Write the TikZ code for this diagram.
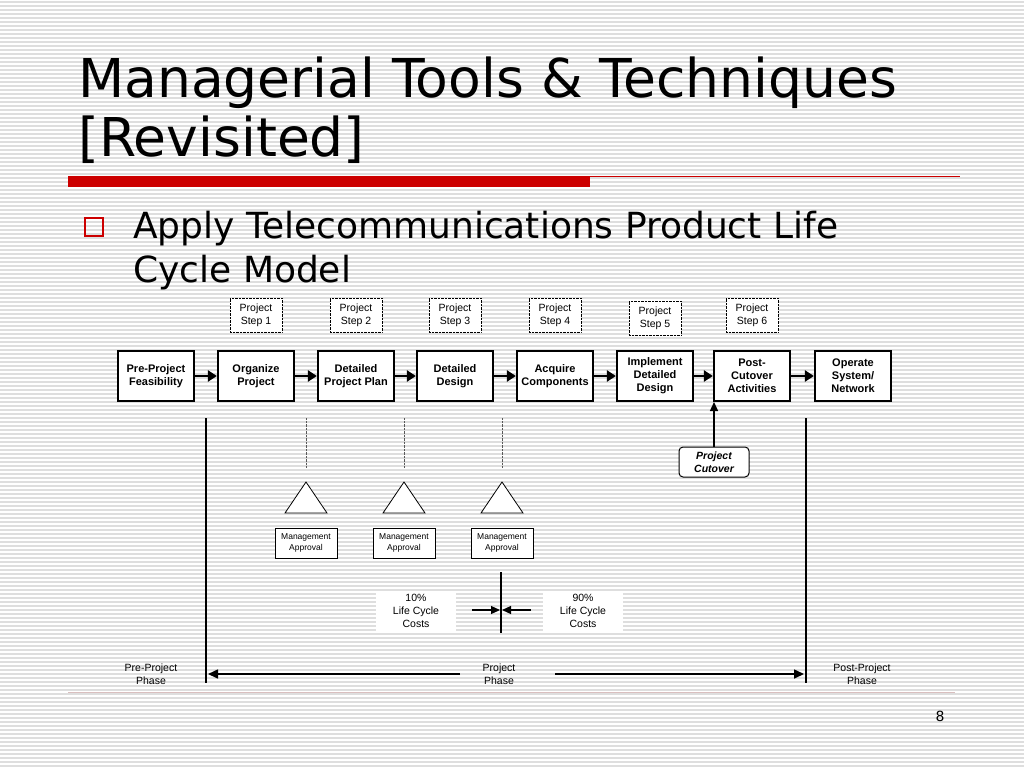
\documentclass[tikz,border=0pt]{standalone}
\usepackage{fontspec}
\setmainfont{DejaVu Sans}
\newfontfamily\arial{Liberation Sans}
\usetikzlibrary{arrows.meta}
\definecolor{stripe}{RGB}{222,222,222}
\definecolor{tred}{RGB}{204,0,0}
\begin{document}
\begin{tikzpicture}[x=1pt,y=-1pt,
 proc/.style={draw,line width=2.2pt,minimum width=76pt,minimum height=50pt,align=center,font=\arial\fontsize{11}{13}\selectfont\bfseries,inner sep=1pt,fill=white},
 pstep/.style={draw,densely dotted,minimum width=52pt,minimum height=34pt,align=center,font=\arial\fontsize{10.5}{13}\selectfont,fill=white},
 mgmt/.style={draw,line width=1pt,minimum width=62pt,minimum height=30pt,align=center,font=\arial\fontsize{8.5}{11}\selectfont,fill=white},
 lbl/.style={align=center,font=\arial\fontsize{10.5}{13}\selectfont},
 flow/.style={line width=2.5pt,-{Triangle[length=9pt,width=11pt]}},
 tri/.style={draw,line width=0.8pt,fill=white}]
\useasboundingbox (0,0) rectangle (1024,768);
\fill[white] (0,0) rectangle (1024,768);
\foreach \y in {2,6,...,766} \draw[stripe,line width=1.2pt] (0,\y) -- (1024,\y);
% title
\node[anchor=base west,font=\fontsize{53.5}{60}\selectfont,inner sep=0] (t1) at (78,97) {Managerial Tools \& Techniques};
\node[anchor=base west,font=\fontsize{53.5}{60}\selectfont,inner sep=0] (t2) at (78,156) {[Revisited]};
\fill[tred] (68,176) rectangle (590,187);
\draw[tred,line width=0.8pt] (590,176) -- (960,176);
\draw[tred,line width=2pt] (85,218) rectangle (103,236);
\node[anchor=base west,font=\fontsize{36}{40}\selectfont,inner sep=0] (b1) at (133,238) {Apply Telecommunications Product Life};
\node[anchor=base west,font=\fontsize{36}{40}\selectfont,inner sep=0] (b2) at (133,282) {Cycle Model};
% process boxes
\foreach \n/\x/\t in {p1/156/{Pre-Project\\Feasibility},p2/256/{Organize\\Project},p3/356/{Detailed\\Project Plan},p4/455/{Detailed\\Design},p5/555/{Acquire\\Components},p6/655/{Implement\\Detailed\\Design},p7/752/{Post-\\Cutover\\Activities},p8/853/{Operate\\System/\\Network}}
  \node[proc] (\n) at (\x,376) {\t};
\foreach \a/\b in {p1/p2,p2/p3,p3/p4,p4/p5,p5/p6,p6/p7,p7/p8} \draw[flow] (\a) -- (\b);
\foreach \n/\x/\y/\k in {s1/256/315/1,s2/356/315/2,s3/455/315/3,s4/555/315/4,s5/655/318/5,s6/752/315/6}
  \node[pstep] (\n) at (\x,\y) {Project\\Step \k};
% cutover
\node[draw,line width=1pt,rounded corners=4pt,minimum width=70pt,minimum height=30pt,align=center,font=\arial\fontsize{10.5}{13}\selectfont\bfseries\itshape,fill=white] (pc) at (714,462) {Project\\Cutover};
\draw[line width=1.4pt,-{Triangle[length=9pt,width=8pt]}] (pc) -- (714,402);
% phase lines
\coordinate (l1a) at (206,418); \coordinate (l1b) at (206,683);
\coordinate (l2a) at (806,418); \coordinate (l2b) at (806,683);
\draw[line width=1.2pt] (l1a) -- (l1b); \draw[line width=1.2pt] (l2a) -- (l2b);
% approvals
\foreach \i/\x in {1/306,2/404,3/502}{
  \draw[densely dotted,gray!70!black] (\x,418) -- (\x,468);
  \draw[tri] (\x,482) -- (\x+21,513) -- (\x-21,513) -- cycle;
  \node[mgmt] (m\i) at (\x,543) {Management\\Approval};
}
% cost split
\coordinate (ca) at (501,572); \coordinate (cb) at (501,633);
\draw[line width=1.2pt] (ca) -- (cb);
\node[lbl,fill=white,minimum width=80pt,minimum height=40pt] (c10) at (416,611) {10\%\\Life Cycle\\Costs};
\node[lbl,fill=white,minimum width=80pt,minimum height=40pt] (c90) at (583,611) {90\%\\Life Cycle\\Costs};
\coordinate (ar1) at (472,610); \coordinate (ar2) at (531,610);
\draw[line width=1.2pt,-{Triangle[length=9pt,width=8pt]}] (ar1) -- (500,610);
\draw[line width=1.2pt,-{Triangle[length=9pt,width=8pt]}] (ar2) -- (502,610);
% phases
\node[lbl] (ph1) at (151,674) {Pre-Project\\Phase};
\node[lbl] (ph2) at (499,674) {Project\\Phase};
\node[lbl] (ph3) at (862,674) {Post-Project\\Phase};
\draw[line width=1.6pt,-{Triangle[length=10pt,width=9pt]}] (460,674) -- ([xshift=2pt]l1a |- 0,674);
\draw[line width=1.6pt,-{Triangle[length=10pt,width=9pt]}] (555,674) -- ([xshift=-2pt]l2a |- 0,674);
\draw[red!25!gray!40,line width=1pt] (68,692) -- (955,692);
\node[font=\fontsize{14}{16}\selectfont] (pg) at (940,716) {8};
\end{tikzpicture}
\end{document}
